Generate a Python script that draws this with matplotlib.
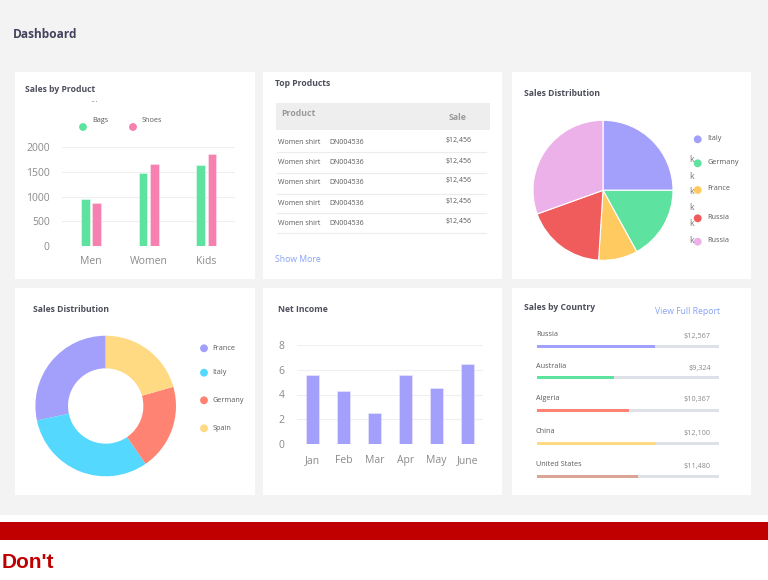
import matplotlib
matplotlib.use("Agg")
import matplotlib.pyplot as plt
from matplotlib.patches import Rectangle

plt.rcParams['font.family'] = ['Open Sans', 'DejaVu Sans']

# ---------------- data ----------------
prod_categories = ["Men", "Women", "Kids"]
bags_values = [950, 1480, 1640]
shoes_values = [870, 1660, 1860]
prod_yticks = [0, 500, 1000, 1500, 2000]

table_products = ["Women shirt"] * 5
table_codes = ["DN004536"] * 5
table_sales = ["$12,456"] * 5

pie_labels = ["Italy", "Germany", "France", "Russia", "Russia"]
pie_values = [25, 17, 9, 18.5, 30.5]
pie_colors = ["#a3a0fb", "#5ee2a0", "#ffca5f", "#f05b5b", "#edb1ea"]

donut_labels = ["France", "Italy", "Germany", "Spain"]
donut_values = [28.3, 31.3, 19.8, 20.6]
donut_colors = ["#a3a0fb", "#55d8fe", "#ff8373", "#ffda83"]

income_months = ["Jan", "Feb", "Mar", "Apr", "May", "June"]
income_values = [5.55, 4.3, 2.5, 5.6, 4.55, 6.5]
income_yticks = [0, 2, 4, 6, 8]

country_names = ["Russia", "Australia", "Algeria", "China", "United States"]
country_sales = ["$12,567", "$9,324", "$10,367", "$12,100", "$11,480"]
country_share = [0.648, 0.425, 0.504, 0.652, 0.557]
country_colors = ["#a3a0fb", "#5ee2a0", "#ff8373", "#ffda83", "#dba596"]

# ---------------- figure ----------------
W, H = 768, 580
fig = plt.figure(figsize=(W / 100, H / 100), dpi=100)
fig.patch.set_facecolor("#f3f3f3")

def rect(x0, y0, x1, y1):
    return [x0 / W, 1 - y1 / H, (x1 - x0) / W, (y1 - y0) / H]

bg = fig.add_axes([0, 0, 1, 1], zorder=0)
bg.set_xlim(0, W)
bg.set_ylim(H, 0)
bg.axis("off")

TITLE_C = "#4d4f5c"
TICK_C = "#8a8a8a"
TXT_C = "#5a5a5a"

# bottom band
bg.add_patch(Rectangle((0, 515), W, 65, color="white", lw=0))
bg.add_patch(Rectangle((0, 522), W, 17.5, color="#c00000", lw=0))
bg.text(2, 562, "Don't", color="#c00000", fontsize=15, fontweight="bold",
        va="center", ha="left", family=["Liberation Sans Narrow", "Liberation Sans", "DejaVu Sans"])

bg.text(13, 34, "Dashboard", color="#43425d", fontsize=8.6, fontweight="bold",
        va="center", ha="left")

panels = [(15, 72, 255, 279), (263, 72, 502, 279), (512, 72, 751, 279),
          (15, 288, 255, 495), (263, 288, 502, 495), (512, 288, 751, 495)]
for x0, y0, x1, y1 in panels:
    bg.add_patch(Rectangle((x0, y0), x1 - x0, y1 - y0, color="white", lw=0))

# ---------- Panel 1: Sales by Product ----------
bg.text(25, 90, "Sales by Product", color=TITLE_C, fontsize=6.2, fontweight="bold", va="center")
bg.text(94, 99, "...", color="#999999", fontsize=7, va="center", ha="center")
bg.scatter([83, 133], [127, 127], s=32, c=["#5ee2a0", "#f681b0"], lw=0)
bg.text(92, 121, "Bags", fontsize=5.2, color=TXT_C, va="center")
bg.text(142, 121, "Shoes", fontsize=5.2, color=TXT_C, va="center")

ax1 = fig.add_axes(rect(62.3, 147.3, 235, 246), zorder=1)
ax1.patch.set_alpha(0)
xs = range(len(prod_categories))
ax1.bar([x - 0.1 for x in xs], bags_values, width=0.152, color="#5ee2a0",
        edgecolor="#e8fbf1", lw=0.4, zorder=3)
ax1.bar([x + 0.1 for x in xs], shoes_values, width=0.152, color="#f681b0",
        edgecolor="#fde6ef", lw=0.4, zorder=3)
ax1.set_xlim(-0.5, 2.5)
ax1.set_ylim(0, 2000)
ax1.set_yticks(prod_yticks)
ax1.set_xticks(list(xs))
ax1.set_xticklabels(prod_categories)
ax1.grid(axis="y", color="#efefef", lw=0.8, zorder=0)
for s in ax1.spines.values():
    s.set_visible(False)
ax1.tick_params(length=0, labelsize=7.5, colors=TICK_C, pad=9)
ax1.tick_params(axis="x", pad=7)
ax1.set_axisbelow(True)

# ---------- Panel 2: Top Products ----------
bg.text(275, 83, "Top Products", color=TITLE_C, fontsize=6.2, fontweight="bold", va="center")
bg.add_patch(Rectangle((276, 103.3), 214, 26.4, color="#eeeeee", lw=0))
bg.text(281, 114, "Product", fontsize=6.3, color="#9a9a9a", fontweight="bold", va="center")
bg.text(449, 117, "Sale", fontsize=6.3, color="#9a9a9a", fontweight="bold", va="center")
row_y = [142, 162.7, 182.3, 203.3, 223.3]
sep_y = [152.3, 172.7, 194.3, 212.7, 233.3]
for i in range(len(table_products)):
    bg.text(278, row_y[i], table_products[i], fontsize=5, color=TXT_C, va="center")
    bg.text(329, row_y[i], table_codes[i], fontsize=5, color=TXT_C, va="center")
    bg.text(446, row_y[i] - 1.5, table_sales[i], fontsize=5, color=TXT_C, va="center")
    bg.plot([277, 486], [sep_y[i], sep_y[i]], color="#ececec", lw=0.8)
bg.text(275, 260, "Show More", fontsize=6.2, color="#86a2f6", va="center")

# ---------- Panel 3: Sales Distribution (pie) ----------
bg.text(524, 93, "Sales Distribution", color=TITLE_C, fontsize=6.2, fontweight="bold", va="center")
ax3 = fig.add_axes(rect(533, 120.3, 673, 260.3), zorder=1)
ax3.pie(pie_values, colors=pie_colors, startangle=90, counterclock=False, radius=1,
        wedgeprops=dict(edgecolor="white", linewidth=0.8))
ax3.set_xlim(-1, 1)
ax3.set_ylim(-1, 1)
ax3.set_aspect("equal")
leg3_y = [139.3, 163.3, 190, 218.3, 241.7]
bg.scatter([697.7] * 5, leg3_y, s=32, c=pie_colors, lw=0)
for lab, y in zip(pie_labels, leg3_y):
    bg.text(707.7, y - 1, lab, fontsize=5.2, color=TXT_C, va="center")
for y in [160, 176.7, 192, 207.7, 224, 240.3]:
    bg.text(691.7, y, "k", fontsize=6.3, color="#777777", va="center", ha="center")

# ---------- Panel 4: Sales Distribution (donut) ----------
bg.text(33, 309, "Sales Distribution", color=TITLE_C, fontsize=6.2, fontweight="bold", va="center")
ax4 = fig.add_axes(rect(35.4, 335.7, 176, 476.3), zorder=1)
ax4.pie(donut_values, colors=donut_colors, startangle=90, counterclock=True, radius=1,
        wedgeprops=dict(width=0.464, edgecolor="none"))
ax4.set_xlim(-1, 1)
ax4.set_ylim(-1, 1)
ax4.set_aspect("equal")
leg4_y = [348.3, 372.7, 400.3, 428.3]
bg.scatter([204] * 4, leg4_y, s=32, c=donut_colors, lw=0)
for lab, y in zip(donut_labels, leg4_y):
    bg.text(212.7, y, lab, fontsize=5.2, color=TXT_C, va="center")

# ---------- Panel 5: Net Income ----------
bg.text(277.7, 309.3, "Net Income", color=TITLE_C, fontsize=6.2, fontweight="bold", va="center")
ax5 = fig.add_axes(rect(297, 345, 482.7, 444), zorder=1)
ax5.patch.set_alpha(0)
ax5.bar(range(len(income_months)), income_values, width=0.41, color="#a3a0fb",
        edgecolor="#eceafe", lw=0.4, zorder=3)
ax5.set_xlim(-0.5, 5.5)
ax5.set_ylim(0, 8)
ax5.set_yticks(income_yticks)
ax5.set_xticks(range(len(income_months)))
ax5.set_xticklabels(income_months)
ax5.grid(axis="y", color="#efefef", lw=0.8, zorder=0)
for s in ax5.spines.values():
    s.set_visible(False)
ax5.tick_params(length=0, labelsize=7.5, colors=TICK_C, pad=9)
ax5.tick_params(axis="x", pad=8)
ax5.set_axisbelow(True)

# ---------- Panel 6: Sales by Country ----------
bg.text(524, 308, "Sales by Country", color=TITLE_C, fontsize=6.2, fontweight="bold", va="center")
bg.text(720, 311, "View Full Report", color="#86a2f6", fontsize=6.2, va="center", ha="right")
track_x0, track_w = 537, 182
bar_y = [346.7, 377.7, 410.7, 443, 476]
name_y = [334.7, 366.7, 398.3, 431.7, 465]
bg.barh(bar_y, [track_w] * 5, left=track_x0, height=3, color="#dfe1e8", lw=0)
bg.barh(bar_y, [f * track_w for f in country_share], left=track_x0, height=3,
        color=country_colors, lw=0)
for i in range(len(country_names)):
    bg.text(536, name_y[i], country_names[i], fontsize=5.2, color=TXT_C, va="center")
    bg.text(711, name_y[i] + 1.5, country_sales[i], fontsize=5.2, color="#8a8a8a",
            va="center", ha="right")

fig.savefig("out.png", dpi=100, facecolor=fig.get_facecolor())
